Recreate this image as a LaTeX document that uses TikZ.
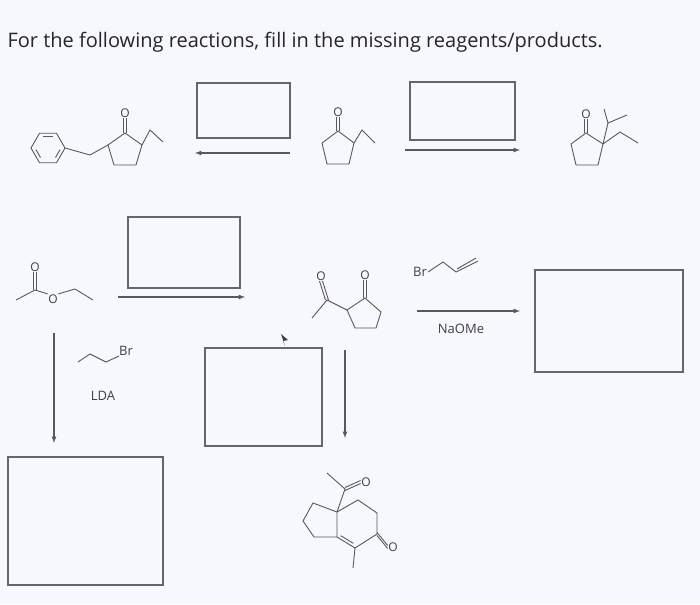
\documentclass[tikz,border=0pt]{standalone}
\usepackage{fontspec}
\setmainfont{Open Sans}
\usetikzlibrary{calc}
\begin{document}
\begin{tikzpicture}[x=1pt,y=-1pt,
  bond/.style={draw=black!65,line width=0.9pt},
  box/.style={draw=black!60,line width=1.6pt},
  rxn/.style={draw=black!65,line width=1.2pt,-latex},
  atom/.style={inner sep=0.5pt,font=\fontsize{12}{12}\selectfont,text=black!75},
  lab/.style={inner sep=1pt,font=\fontsize{13}{13}\selectfont,text=black!75}]
\fill[black!12!blue!3!white] (0,0) rectangle (700,604);
\useasboundingbox (0,0) rectangle (700,604);
\node[anchor=west,font=\fontsize{20}{20}\selectfont,text=black!85] (title) at (4,42) {For the following reactions, fill in the missing reagents/products.};
% boxes
\draw[box] (197,83) rectangle (290,138);
\draw[box] (410,82) rectangle (515,140);
\draw[box] (128,217) rectangle (240,288);
\draw[box] (8,457) rectangle (163,585);
\draw[box] (205,348) rectangle (322,446);
\draw[box] (535,270) rectangle (683,372);
% arrows
\coordinate (a1s) at (290,153); \coordinate (a1e) at (195,153);
\draw[rxn] (a1s) -- (a1e);
\coordinate (a2s) at (405,150); \coordinate (a2e) at (520,150);
\draw[rxn] (a2s) -- (a2e);
\coordinate (a3s) at (118,297); \coordinate (a3e) at (245,297);
\draw[rxn] (a3s) -- (a3e);
\coordinate (a4s) at (54,333); \coordinate (a4e) at (54,443);
\draw[rxn] (a4s) -- (a4e);
\coordinate (a5s) at (345,350); \coordinate (a5e) at (345,438);
\draw[rxn] (a5s) -- (a5e);
\coordinate (a6s) at (417,311); \coordinate (a6e) at (520,311);
\draw[rxn] (a6s) -- (a6e);
% cursor
\fill[black!75] (281,334) -- (285,346) -- (283,341) -- (288,340) -- cycle;
% benzyl ketone
\foreach \i in {0,...,5} {
  \coordinate (b\i) at ({48+17*cos(60*\i)},{148+17*sin(60*\i)});
  \coordinate (ib\i) at ({48+13*cos(60*\i)},{148+13*sin(60*\i)});}
\draw[bond] (b0)--(b1)--(b2)--(b3)--(b4)--(b5)--cycle;
\foreach \i/\j in {0/1,2/3,4/5}
  \draw[bond] ($(ib\i)!0.15!(ib\j)$) -- ($(ib\j)!0.15!(ib\i)$);
\coordinate (k1) at (125,133); \coordinate (k2) at (142,145); \coordinate (k3) at (136,165);
\coordinate (k4) at (114,165); \coordinate (k5) at (108,145);
\draw[bond] (k1)--(k2)--(k3)--(k4)--(k5)--cycle;
\node[atom] (o1) at (125,113) {O};
\draw[bond] ([xshift=-1.5]k1) -- ([xshift=-1.5]o1.south); \draw[bond] ([xshift=1.5]k1) -- ([xshift=1.5]o1.south);
\draw[bond] (k2) -- (150,130) -- (163,142);
\draw[bond] (k5) -- (90,155) -- (b0);
% ketone 2
\coordinate (m1) at (338,131); \coordinate (m2) at (354,143); \coordinate (m3) at (349,164);
\coordinate (m4) at (327,164); \coordinate (m5) at (322,143);
\draw[bond] (m1)--(m2)--(m3)--(m4)--(m5)--cycle;
\node[atom] (o2) at (338,112) {O};
\draw[bond] ([xshift=-1.5]m1) -- ([xshift=-1.5]o2.south); \draw[bond] ([xshift=1.5]m1) -- ([xshift=1.5]o2.south);
\draw[bond] (m2) -- (362,130) -- (375,143);
% product 3
\coordinate (p1) at (586,133); \coordinate (p2) at (603,144); \coordinate (p3) at (598,165);
\coordinate (p4) at (576,165); \coordinate (p5) at (571,144);
\draw[bond] (p1)--(p2)--(p3)--(p4)--(p5)--cycle;
\node[atom] (o3) at (586,114) {O};
\draw[bond] ([xshift=-1.5]p1) -- ([xshift=-1.5]o3.south); \draw[bond] ([xshift=1.5]p1) -- ([xshift=1.5]o3.south);
\draw[bond] (p2) -- (608,123) -- (604,109);
\draw[bond] (608,123) -- (627,115);
\draw[bond] (p2) -- (620,132) -- (638,143);
% ester
\coordinate (e1) at (35,290); \node[atom] (oe) at (35,267) {O};
\draw[bond] ([xshift=-1.5]e1) -- ([xshift=-1.5]oe.south); \draw[bond] ([xshift=1.5]e1) -- ([xshift=1.5]oe.south);
\draw[bond] (e1) -- (16,300);
\node[atom] (oe2) at (53,299) {O};
\draw[bond] (e1) -- (oe2.north west);
\draw[bond] (oe2.north east) -- (75,289) -- (93,300);
% propyl bromide
\draw[bond] (78,362) -- (90,354) -- (106,362) -- (119,356);
\node[lab,anchor=west] (br1) at (118,351) {Br};
\node[lab] (lda) at (103,396) {LDA};
% diketone
\coordinate (d1) at (347,310); \coordinate (d2) at (365,298); \coordinate (d3) at (381,312);
\coordinate (d4) at (376,328); \coordinate (d5) at (355,328);
\draw[bond] (d1)--(d2)--(d3)--(d4)--(d5)--cycle;
\node[atom] (od) at (365,275) {O};
\draw[bond] ([xshift=-1.5]d2) -- ([xshift=-1.5]od.south); \draw[bond] ([xshift=1.5]d2) -- ([xshift=1.5]od.south);
\coordinate (ac) at (327,300);
\node[atom] (oa) at (321,276) {O};
\draw[bond] ([xshift=-1.5]ac) -- ([xshift=-1.5]oa.south); \draw[bond] ([xshift=1.5]ac) -- ([xshift=1.5]oa.south);
\draw[bond] (d1) -- (ac) -- (312,318);
% allyl bromide
\node[lab] (br2) at (420,272) {Br};
\draw[bond] (br2.east) -- (443,262) -- (456,272) -- (478,261);
\draw[bond] (457,269) -- (476,258);
\node[lab] (nao) at (461,329) {NaOMe};
% bicyclic product
\coordinate (s) at (337,512); \coordinate (f) at (337,537);
\coordinate (c1) at (313,503); \coordinate (c2) at (303,521); \coordinate (c3) at (314,537);
\draw[bond] (s)--(c1)--(c2)--(c3)--(f)--cycle;
\coordinate (h1) at (358,500); \coordinate (h2) at (377,513); \coordinate (h3) at (377,534); \coordinate (h4) at (355,548);
\draw[bond] (s)--(h1)--(h2)--(h3)--(h4)--(f);
\draw[bond] ($(f)!0.15!(h4)+(1,-3)$) -- ($(h4)!0.15!(f)+(1,-3)$);
\draw[bond] (h4) -- (353,568);
\node[atom] (ob) at (393,547) {O};
\draw[bond] ([yshift=-1.5]h3) -- ([yshift=-1.5]ob.west); \draw[bond] ([yshift=1.5]h3) -- ([yshift=1.5]ob.west);
\coordinate (bc) at (345,489);
\node[atom] (oc) at (366,482) {O};
\draw[bond] (s) -- (bc) -- (327,473);
\draw[bond] ([yshift=-1.5]bc) -- ([yshift=-1.5]oc.west); \draw[bond] ([yshift=1.5]bc) -- ([yshift=1.5]oc.west);
\end{tikzpicture}
\end{document}
